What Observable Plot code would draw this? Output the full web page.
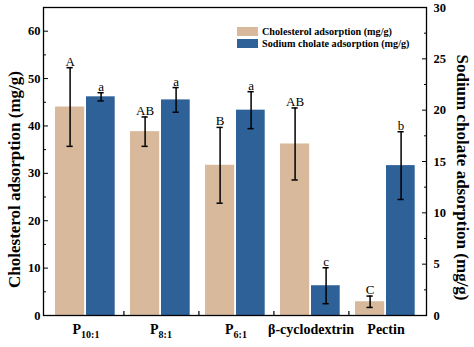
<!DOCTYPE html>
<html><head><meta charset="utf-8">
<script src="https://cdn.jsdelivr.net/npm/d3@7"></script>
<script src="https://cdn.jsdelivr.net/npm/@observablehq/plot@0.6"></script>
<style>
body{margin:0;background:#fff;}
#wrap{position:relative;width:474px;height:347px;}
.legend{position:absolute;left:237px;top:25px;font:bold 10.2px "Liberation Serif",serif;color:#000;}
.legend div{display:flex;align-items:center;height:12.5px;white-space:nowrap;}
.legend span.sw{display:inline-block;width:21px;height:9px;margin-right:4px;}
</style></head><body><div id="wrap"></div>
<script>
const categories = ["P10:1","P8:1","P6:1","β-cyclodextrin","Pectin"];
const cholesterol = [44.0, 38.8, 31.7, 36.2, 2.9];
const cholesterolErr = [8.3, 3.1, 8.0, 7.6, 1.2];
const cholesterolLetters = ["A","AB","B","AB","C"];
const sodium = [21.3, 21.0, 20.0, 2.9, 14.6];
const sodiumErr = [0.4, 1.2, 1.8, 1.75, 3.3];
const sodiumLetters = ["a","a","a","c","b"];
const leftTicks = [0,10,20,30,40,50,60];
const leftMinor = [5,15,25,35,45,55];
const rightTicks = [0,5,10,15,20,25,30];
const rightMinor = [2.5,7.5,12.5,17.5,22.5,27.5];
const seriesNames = ["Cholesterol adsorption (mg/g)","Sodium cholate adsorption (mg/g)"];
const colors = ["#D8B99C","#2D6198"];

const k = 65/30;
const x0 = 46, x1 = 425;
const bw = (x1 - x0) / categories.length;
const chol = categories.map((c,i)=>({cat:c, v:cholesterol[i], e:cholesterolErr[i], lab:cholesterolLetters[i]}));
const sod = categories.map((c,i)=>({cat:c, v:sodium[i]*k, e:sodiumErr[i]*k, lab:sodiumLetters[i]}));
const dxC = 22 - bw/2, dxS = 53 - bw/2;
const capIn = (bw - 7)/2;
const font = "Liberation Serif";

function errMarks(rows, dx) {
  return [
    Plot.ruleX(rows, {x:"cat", y1:d=>d.v-d.e, y2:d=>d.v+d.e, dx, stroke:"#000", strokeWidth:1.5}),
    Plot.tickY(rows, {x:"cat", y:d=>d.v+d.e, dx, insetLeft:capIn, insetRight:capIn, stroke:"#000", strokeWidth:1.5}),
    Plot.tickY(rows, {x:"cat", y:d=>d.v-d.e, dx, insetLeft:capIn, insetRight:capIn, stroke:"#000", strokeWidth:1.5}),
    Plot.text(rows, {x:"cat", y:d=>d.v+d.e, text:"lab", dx, dy:-2, lineAnchor:"bottom", fontSize:13, fill:"#000"})
  ];
}

const chart = Plot.plot({
  width: 474, height: 347,
  marginLeft: 43, marginRight: 48, marginTop: 7, marginBottom: 32,
  style: {fontFamily: font, fontSize: "12px", color: "#000", background: "#fff"},
  x: {domain: categories, range: [x0, x1], padding: 0},
  y: {domain: [0, 65]},
  marks: [
    Plot.barY(chol, {x:"cat", y:"v", fill:colors[0], insetLeft:7, insetRight:bw-37}),
    Plot.barY(sod, {x:"cat", y:"v", fill:colors[1], insetLeft:38, insetRight:bw-67.5}),
    ...errMarks(chol, dxC),
    ...errMarks(sod, dxS),
    Plot.axisY(leftTicks, {anchor:"left", tickSize:-5, tickPadding:8, fontSize:12.5, fontWeight:"bold", label:null}),
    Plot.axisY(leftMinor, {anchor:"left", tickSize:-3, tickFormat:()=>"", label:null}),
    Plot.axisY(rightTicks.map(v=>v*k), {anchor:"right", tickSize:-5, tickPadding:12, fontSize:12.5, fontWeight:"bold", tickFormat:d=>String(Math.round(d/k)), label:null}),
    Plot.axisY(rightMinor.map(v=>v*k), {anchor:"right", tickSize:-3, tickFormat:()=>"", label:null}),
    Plot.axisX({tickSize:0, tickPadding:9, fontSize:14, fontWeight:"bold", label:null}),
    Plot.ruleX(categories.slice(0,4), {x:d=>d, dx:bw/2, y1:0, y2:4*65/308, stroke:"#000", strokeWidth:1.2}),
    Plot.text([seriesNames[0]], {text:d=>d, frameAnchor:"left", textAnchor:"middle", lineAnchor:"middle", dx:-29, dy:18, rotate:-90, fontSize:17, fontWeight:"bold", fill:"#000"}),
    Plot.text([seriesNames[1]], {text:d=>d, frameAnchor:"right", textAnchor:"middle", lineAnchor:"middle", dx:36, dy:16, rotate:90, fontSize:17, fontWeight:"bold", fill:"#000"}),
    Plot.frame({stroke:"#000", strokeWidth:1.3})
  ]
});

// subscripts in x tick labels
chart.querySelectorAll('g[aria-label="x-axis tick label"] text').forEach(t => {
  const s = t.textContent;
  const m = s.match(/^P(\d+:\d+)$/);
  if (m) {
    t.textContent = "P";
    const ts = document.createElementNS("http://www.w3.org/2000/svg","tspan");
    ts.setAttribute("font-size","10");
    ts.setAttribute("dy","4");
    ts.textContent = m[1];
    t.appendChild(ts);
  }
});

const wrap = document.getElementById("wrap");
wrap.appendChild(chart);
const leg = document.createElement("div");
leg.className = "legend";
seriesNames.forEach((n,i)=>{
  const row = document.createElement("div");
  const sw = document.createElement("span");
  sw.className = "sw"; sw.style.background = colors[i];
  row.appendChild(sw);
  row.appendChild(document.createTextNode(n));
  leg.appendChild(row);
});
wrap.appendChild(leg);
</script></body></html>
